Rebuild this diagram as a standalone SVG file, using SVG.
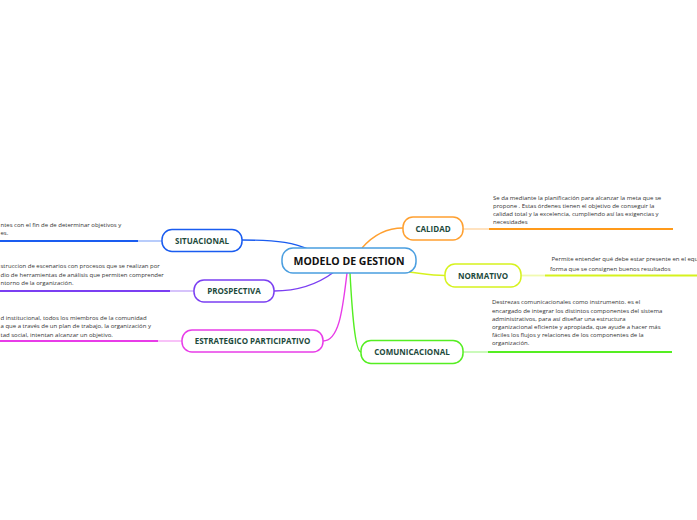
<svg xmlns="http://www.w3.org/2000/svg" width="697" height="520" viewBox="0 0 697 520">
<style>
.node{fill:#fff;stroke-width:1.5}
.lbl{font-family:"Open Sans","Noto Sans",sans-serif;font-weight:bold;font-size:8px;fill:#1d4a3c;text-anchor:middle}
.main{font-family:"Open Sans","Noto Sans",sans-serif;font-weight:bold;font-size:10.5px;fill:#111;text-anchor:middle}
.txt{font-family:"Open Sans","Noto Sans",sans-serif;font-size:6px;fill:#333}
.c{fill:none;stroke-width:1.4}
.u{fill:none;stroke-width:1.8}
.l{fill:none;stroke-width:1.8;opacity:0.35}
</style>
<rect width="697" height="520" fill="#fff"/>
<g id="connectors">
<path class="c" stroke="#1a5cf0" d="M242,240 C280,240 295,243 310,250"/>
<path class="c" stroke="#7b3ff2" d="M274,291 C300,291 318,284 334,272"/>
<path class="c" stroke="#e83ce8" d="M323,341 C340,341 343,305 347,273"/>
<path class="c" stroke="#55ee22" d="M350,273 C352,310 355,352 361,352"/>
<path class="c" stroke="#ffa030" d="M362,248 C375,233 390,228 403,228"/>
<path class="c" stroke="#d6f21e" d="M400,271 C420,273 430,275.5 445,275.5"/>
<path class="l" stroke="#1a5cf0" d="M138,241 H162"/>
<path class="u" stroke="#1a5cf0" d="M0,241 H138"/>
<path class="l" stroke="#7b3ff2" d="M170,291 H194"/>
<path class="u" stroke="#7b3ff2" d="M0,291 H170"/>
<path class="l" stroke="#e83ce8" d="M158,341 H182"/>
<path class="u" stroke="#e83ce8" d="M0,341 H158"/>
<path class="l" stroke="#ffa030" d="M463,229 H489"/>
<path class="u" stroke="#ff9a1a" d="M489,229 H673"/>
<path class="l" stroke="#d6f21e" d="M521,275.5 H545"/>
<path class="u" stroke="#d6f21e" d="M545,275.5 H697"/>
<path class="l" stroke="#55ee22" d="M463,352 H488"/>
<path class="u" stroke="#55ee22" d="M488,352 H672"/>
</g>
<g id="modelo-de-gestion">
<rect class="node" x="282" y="248" width="134" height="25" rx="11" stroke="#4a9ee0"/>
<text class="main" x="349" y="264.5">MODELO DE GESTION</text>
</g>
<g id="situacional">
<rect class="node" x="162" y="229.5" width="80" height="22" rx="10" stroke="#1a5cf0"/>
<text class="lbl" x="202" y="243.5">SITUACIONAL</text>
<text class="txt" x="0.5" y="226.7">ntes con el fin de  de determinar objetivos y</text>
<text class="txt" x="0.5" y="235.2">es.</text>
</g>
<g id="prospectiva">
<rect class="node" x="194" y="280" width="80" height="22" rx="10" stroke="#7b3ff2"/>
<text class="lbl" x="234" y="294">PROSPECTIVA</text>
<text class="txt" x="0.5" y="268.4">struccion de escenarios con procesos que se realizan por</text>
<text class="txt" x="0.5" y="276.7">dio de herramientas de análisis que permiten comprender</text>
<text class="txt" x="0.5" y="285">ntorno de la organización.</text>
</g>
<g id="estrategico-participativo">
<rect class="node" x="182" y="330" width="141" height="22" rx="10" stroke="#e83ce8"/>
<text class="lbl" x="252.5" y="344">ESTRATEGICO PARTICIPATIVO</text>
<text class="txt" x="0.5" y="320">d institucional, todos los miembros de la comunidad</text>
<text class="txt" x="0.5" y="328.4">a que a través de un plan de trabajo, la organización y</text>
<text class="txt" x="0.5" y="336.6">tad social, intentan alcanzar un objetivo.</text>
</g>
<g id="calidad">
<rect class="node" x="403" y="217" width="60" height="23" rx="10" stroke="#ffa030"/>
<text class="lbl" x="433" y="231.5">CALIDAD</text>
<text class="txt" x="493" y="199.5">Se da mediante la planificación para alcanzar la meta que se</text>
<text class="txt" x="493" y="207.8">propone . Estas órdenes tienen el objetivo de conseguir la</text>
<text class="txt" x="493" y="216.1">calidad total y la excelencia, cumpliendo así las exigencias y</text>
<text class="txt" x="493" y="224.4">necesidades</text>
</g>
<g id="normativo">
<rect class="node" x="445" y="264" width="76" height="23" rx="10" stroke="#d6f21e"/>
<text class="lbl" x="483" y="278.5">NORMATIVO</text>
<text class="txt" x="551.5" y="261">Permite entender qué debe estar presente en el equ</text>
<text class="txt" x="550" y="270.7">forma que se consignen buenos resultados</text>
</g>
<g id="comunicacional">
<rect class="node" x="361" y="340.5" width="102" height="23" rx="10" stroke="#55ee22"/>
<text class="lbl" x="412" y="355">COMUNICACIONAL</text>
<text class="txt" x="492" y="304.4">Destrezas comunicacionales como instrumento. es el</text>
<text class="txt" x="492" y="312.6">encargado de integrar los distintos componentes del sistema</text>
<text class="txt" x="492" y="320.8">administrativos, para así diseñar una estructura</text>
<text class="txt" x="492" y="329">organizacional eficiente y apropiada, que ayude a hacer más</text>
<text class="txt" x="492" y="337.2">fáciles los flujos y relaciones de los componentes de la</text>
<text class="txt" x="492" y="345.4">organización.</text>
</g>
</svg>
